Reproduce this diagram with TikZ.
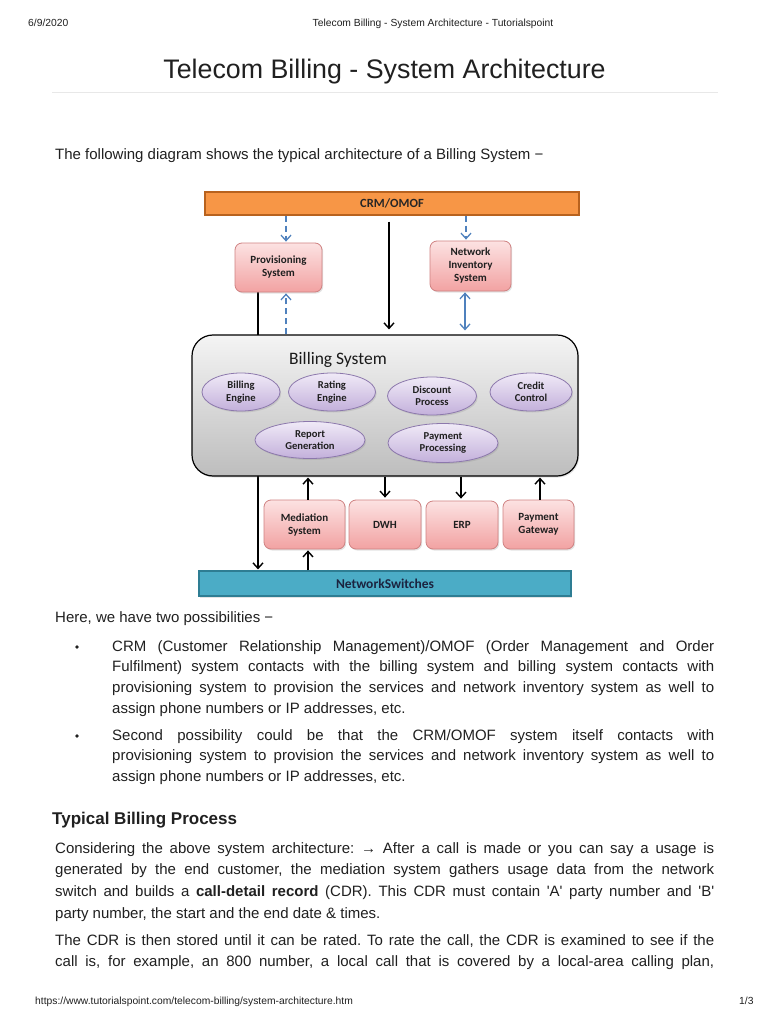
\documentclass[tikz,border=0pt]{standalone}
\usepackage{fontspec}
\setmainfont{Liberation Sans}
\newfontfamily\carl{Carlito}
\usetikzlibrary{arrows.meta,shapes.geometric,calc,shadows}
\definecolor{crmfill}{HTML}{F79646}
\definecolor{crmdraw}{HTML}{B8621E}
\definecolor{pinktop}{HTML}{FCE2E2}
\definecolor{pinkbot}{HTML}{F2A2A2}
\definecolor{pinkdraw}{HTML}{CF8282}
\definecolor{lavtop}{HTML}{F0EAF7}
\definecolor{lavbot}{HTML}{C3B0DB}
\definecolor{lavdraw}{HTML}{8C78AC}
\definecolor{nsfill}{HTML}{4BACC6}
\definecolor{nsdraw}{HTML}{2E7D93}
\definecolor{nstext}{HTML}{1B2440}
\definecolor{flowblue}{HTML}{4F81BD}
\definecolor{rulegray}{HTML}{E8E8E8}
\definecolor{txt}{HTML}{202020}
\definecolor{billtop}{HTML}{F4F4F4}
\definecolor{billbot}{HTML}{BDBDBD}
\pgfdeclarelayer{bg}
\pgfsetlayers{bg,main}
\frenchspacing
\newcommand\jline[2]{\hbox to #1{#2}}
\tikzset{
  softshadow/.style={drop shadow={opacity=0.22, shadow xshift=1.2pt, shadow yshift=-1.5pt}},
  pinkbox/.style={draw=pinkdraw, line width=0.8pt, rounded corners=7pt, top color=pinktop, bottom color=pinkbot, inner sep=0pt, align=center, text=black!88, font=\carl\bfseries\fontsize{11}{13}\selectfont, softshadow},
  ovalnode/.style={ellipse, draw=lavdraw, line width=0.8pt, top color=lavtop, bottom color=lavbot, inner sep=0pt, align=center, text=black!88, font=\carl\bfseries\fontsize{10.6}{12.6}\selectfont, softshadow},
  barbox/.style={rectangle, line width=1.2pt, inner sep=0pt, font=\carl\bfseries\fontsize{12.5}{14}\selectfont, softshadow},
  blackarrow/.style={draw=black, line width=1.4pt, -{Straight Barb[length=5.5pt,width=10pt]}},
  bluedash/.style={draw=flowblue, line width=1.3pt, dash pattern=on 6pt off 4pt, -{Straight Barb[length=5.5pt,width=10pt]}},
  bluesolid/.style={draw=flowblue, line width=1.3pt, {Straight Barb[length=5.5pt,width=10pt]}-{Straight Barb[length=5.5pt,width=10pt]}},
  bodytext/.style={inner sep=0pt, text=txt, font=\fontsize{15}{20.7}\selectfont},
  smalltext/.style={inner sep=0pt, text=txt, font=\fontsize{10.3}{12}\selectfont}
}
\begin{document}
\begin{tikzpicture}[x=1pt,y=-1pt]
\useasboundingbox (0,0) rectangle (768,1024);
\begin{pgfonlayer}{bg}
\fill[white] (0,0) rectangle (768,1024);
\end{pgfonlayer}

% header
\node[smalltext, anchor=base west] (date) at (28,27) {6/9/2020};
\node[smalltext, anchor=base] (hdr) at (433,27) {Telecom Billing - System Architecture - Tutorialspoint};
\node[inner sep=0pt, text=txt, font=\fontsize{26.8}{30}\selectfont, anchor=base] (title) at (384.5,79) {Telecom Billing - System Architecture};
\draw[rulegray, line width=1pt] (52,93) -- (718,93);
\node[bodytext, anchor=base west] (intro) at (55,160) {The following diagram shows the typical architecture of a Billing System −};

% diagram nodes
\node[barbox, draw=crmdraw, fill=crmfill, minimum width=374pt, minimum height=23pt, text=black!85] (crm) at (392,203.5) {CRM/OMOF};
\node[pinkbox, minimum width=87pt, minimum height=49pt] (prov) at (278.5,267.5) {Provisioning\\System};
\node[pinkbox, minimum width=81pt, minimum height=50pt] (nis) at (470.5,266) {Network\\Inventory\\System};
\node[draw=black, line width=1.2pt, rounded corners=21pt, top color=billtop, bottom color=billbot, minimum width=386pt, minimum height=141pt, inner sep=0pt, softshadow] (bill) at (385,405.5) {};
\node[inner sep=0pt, font=\carl\fontsize{17.5}{20}\selectfont, text=black!90] (billlabel) at (338,360) {Billing System};
\node[ovalnode, minimum width=78pt, minimum height=38pt] (be) at (241,392) {Billing\\Engine};
\node[ovalnode, minimum width=87pt, minimum height=38pt] (re) at (332,392) {Rating\\Engine};
\node[ovalnode, minimum width=89pt, minimum height=38pt] (dp) at (432,396) {Discount\\Process};
\node[ovalnode, minimum width=82pt, minimum height=38pt] (cc) at (531,392) {Credit\\Control};
\node[ovalnode, minimum width=110pt, minimum height=37pt] (rg) at (310,440) {Report\\Generation};
\node[ovalnode, minimum width=110pt, minimum height=39pt] (pp) at (443,443) {Payment\\Processing};
\node[pinkbox, minimum width=81pt, minimum height=49pt] (med) at (304.5,524.5) {Mediation\\System};
\node[pinkbox, minimum width=72pt, minimum height=49pt] (dwh) at (385,524.5) {DWH};
\node[pinkbox, minimum width=72pt, minimum height=48pt] (erp) at (462,525) {ERP};
\node[pinkbox, minimum width=71pt, minimum height=49pt] (pg) at (538.5,524.5) {Payment\\Gateway};
\node[barbox, draw=nsdraw, fill=nsfill, minimum width=372pt, minimum height=25pt, text=nstext, font=\carl\bfseries\fontsize{13.5}{15}\selectfont] (ns) at (385,583.5) {NetworkSwitches};

% connectors
\begin{pgfonlayer}{bg}
\draw[blackarrow, shorten >=1pt] ([xshift=-20.5pt]prov.south) -- ([xshift=-20.5pt]prov.south |- ns.north);
\end{pgfonlayer}
\draw[bluedash, shorten >=1pt] ([xshift=7.5pt]prov.north |- crm.south) -- ([xshift=7.5pt]prov.north);
\draw[bluedash, shorten >=1pt] ([xshift=7.5pt]prov.south |- bill.north) -- ([xshift=7.5pt]prov.south);
\draw[blackarrow, shorten <=6pt, shorten >=5pt] ([xshift=-3pt]crm.south) -- ([xshift=-3pt]crm.south |- bill.north);
\draw[bluedash, shorten >=1pt] ([xshift=-4.5pt]nis.north |- crm.south) -- ([xshift=-4.5pt]nis.north);
\draw[bluesolid, shorten >=4pt, shorten <=1pt] ([xshift=-5.5pt]nis.south) -- ([xshift=-5.5pt]nis.south |- bill.north);
\draw[blackarrow, shorten >=1pt] ([xshift=3.5pt]med.north) -- ([xshift=3.5pt]med.north |- bill.south);
\draw[blackarrow, shorten >=2pt] (dwh.north |- bill.south) -- (dwh.north);
\draw[blackarrow, shorten >=2pt] ([xshift=-1pt]erp.north |- bill.south) -- ([xshift=-1pt]erp.north);
\draw[blackarrow, shorten >=1pt] ([xshift=1.5pt]pg.north) -- ([xshift=1.5pt]pg.north |- bill.south);
\draw[blackarrow, shorten >=1pt] ([xshift=3.5pt]med.south |- ns.north) -- ([xshift=3.5pt]med.south);

% text below
\node[bodytext, anchor=base west] (poss) at (55,622) {Here, we have two possibilities −};
\fill[txt] (77,647) circle (1.9pt);
\node[bodytext, anchor=base west] (b1) at (112,651) {\vtop{\baselineskip=20.7pt\lineskiplimit=0pt
\jline{602pt}{CRM (Customer Relationship Management)/OMOF (Order Management and Order}
\jline{602pt}{Fulfilment) system contacts with the billing system and billing system contacts with}
\jline{602pt}{provisioning system to provision the services and network inventory system as well to}
\hbox{assign phone numbers or IP addresses, etc.}}};
\fill[txt] (77,736) circle (1.9pt);
\node[bodytext, anchor=base west] (b2) at (112,740) {\vtop{\baselineskip=20.7pt\lineskiplimit=0pt
\jline{602pt}{Second possibility could be that the CRM/OMOF system itself contacts with}
\jline{602pt}{provisioning system to provision the services and network inventory system as well to}
\hbox{assign phone numbers or IP addresses, etc.}}};
\node[inner sep=0pt, text=txt, font=\bfseries\fontsize{17}{20}\selectfont, anchor=base west] (tbp) at (52,824) {Typical Billing Process};
\node[bodytext, anchor=base west] (p1) at (55,853) {\vtop{\baselineskip=21.7pt\lineskiplimit=0pt
\jline{659pt}{Considering the above system architecture: → After a call is made or you can say a usage is}
\jline{659pt}{generated by the end customer, the mediation system gathers usage data from the network}
\jline{659pt}{switch and builds a \textbf{call-detail record} (CDR). This CDR must contain \textquotesingle A\textquotesingle{} party number and \textquotesingle B\textquotesingle}
\hbox{party number, the start and the end date \& times.}}};
\node[bodytext, anchor=base west] (p2) at (55,945) {\vtop{\baselineskip=21.7pt\lineskiplimit=0pt
\jline{659pt}{The CDR is then stored until it can be rated. To rate the call, the CDR is examined to see if the}
\jline{659pt}{call is, for example, an 800 number, a local call that is covered by a local-area calling plan,}}};

% footer
\node[smalltext, anchor=base west] (url) at (35,1004) {https://www.tutorialspoint.com/telecom-billing/system-architecture.htm};
\node[smalltext, anchor=base west] (pgnum) at (739,1004) {1/3};
\end{tikzpicture}
\end{document}
